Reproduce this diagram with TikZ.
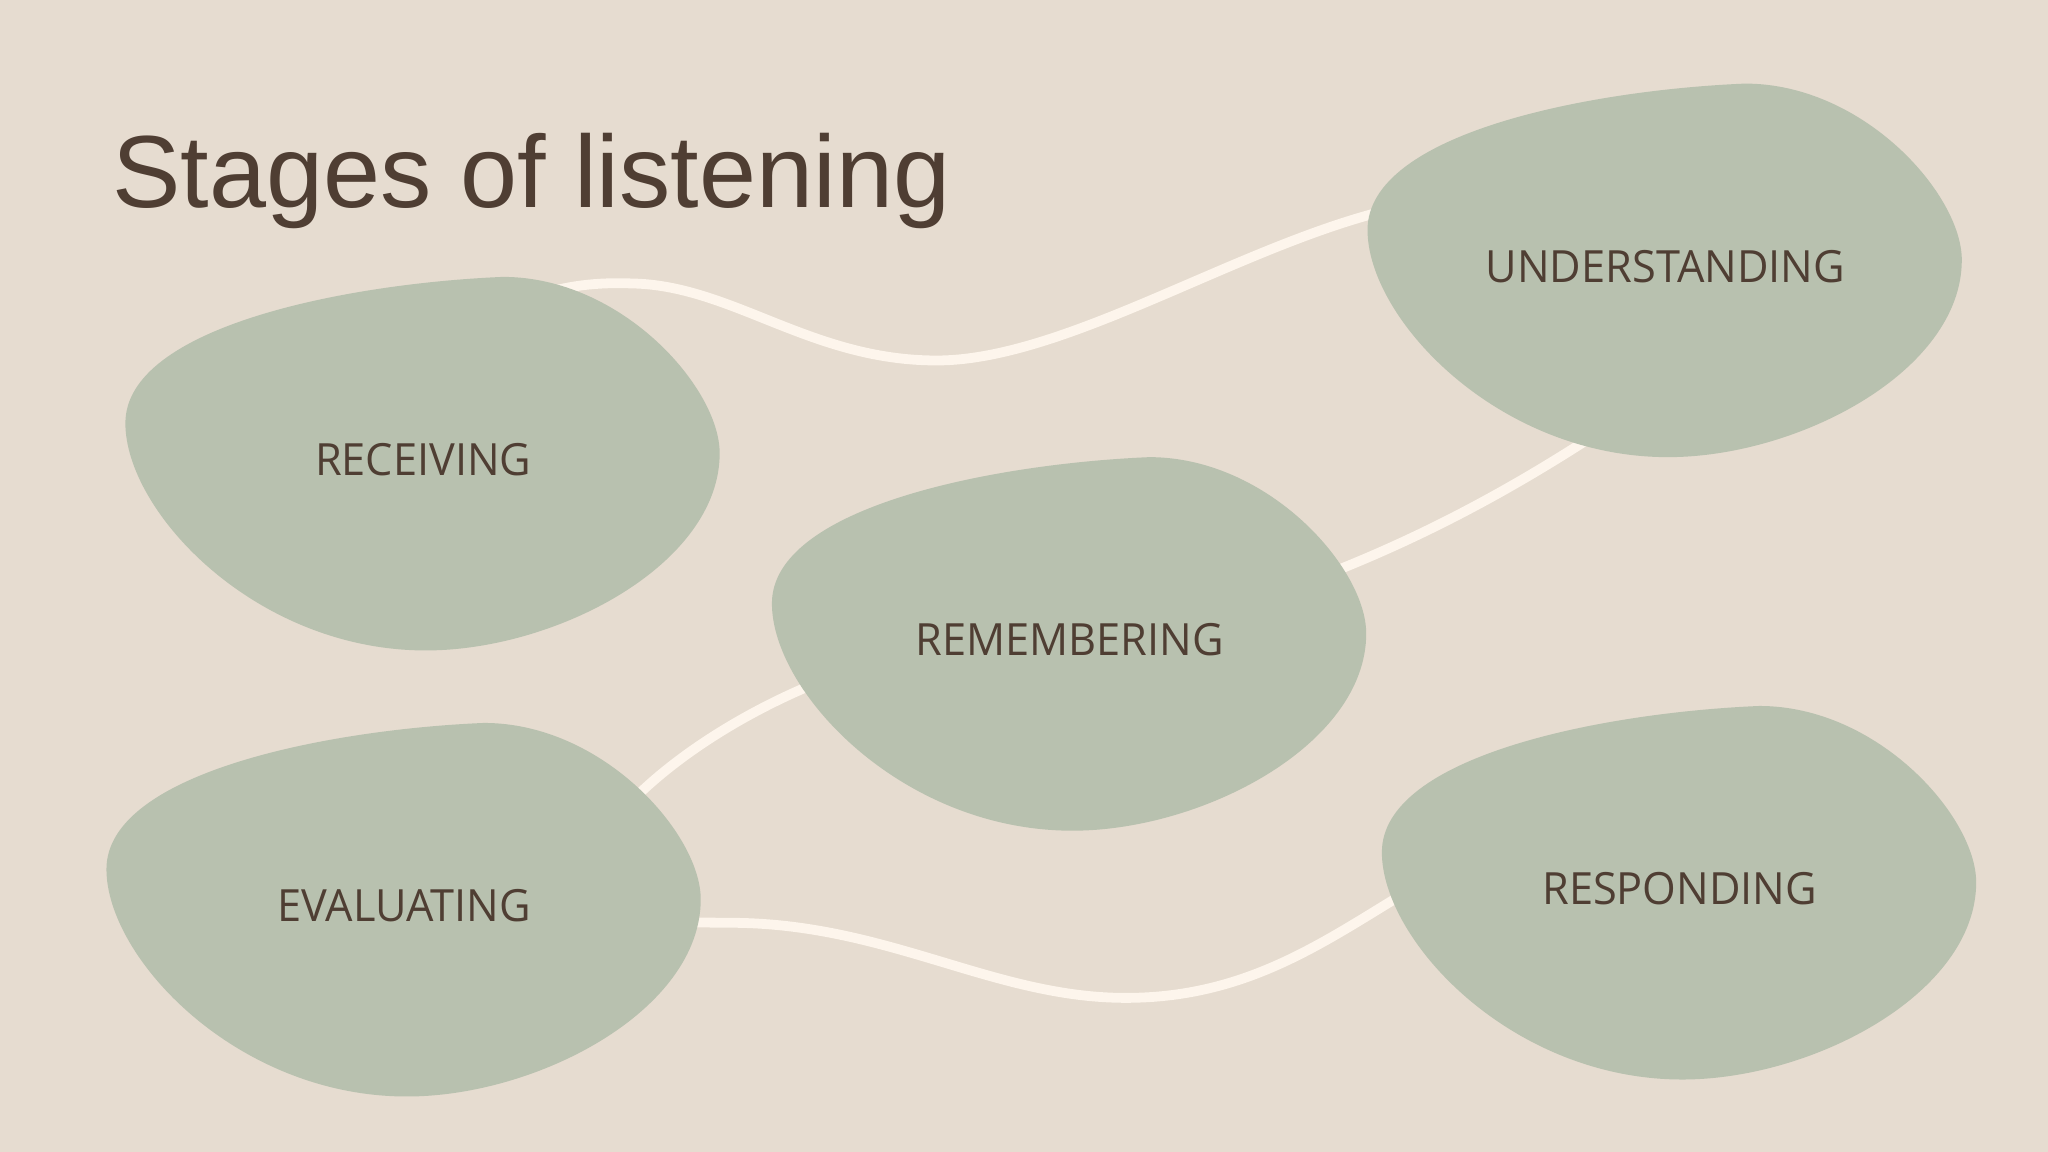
\documentclass[tikz,border=0pt]{standalone}
\usepackage{fontspec}
\newfontfamily\titlefam{Liberation Sans}
\newfontfamily\lblfam{Open Sans}[FakeStretch=0.975]
\definecolor{bgc}{RGB}{230,220,208}
\definecolor{blobc}{RGB}{184,193,175}
\definecolor{textc}{RGB}{79,62,51}
\definecolor{linec}{RGB}{253,245,236}
\tikzset{
  blobfill/.style={fill=blobc},
  conn/.style={draw=linec, line width=7.5pt, line cap=round},
  lbl/.style={inner sep=0pt, text=textc, font=\lblfam\fontsize{34}{40}\selectfont},
  ttl/.style={inner sep=0pt, text=textc, anchor=base west, font=\titlefam\fontsize{78.5}{90}\selectfont}
}
\newcommand\blobat[1]{%
  \path[blobfill, shift={#1}] (289,0)
    .. controls (170,5) and (0,38) .. (0,112)
    .. controls (0,180) and (100,286) .. (230,286)
    .. controls (330,286) and (455,220) .. (455,135)
    .. controls (455,85) and (380,0) .. (289,0) -- cycle;}
\begin{document}
\begin{tikzpicture}[x=1pt,y=-1pt]
\fill[bgc] (0,0) rectangle (1568,882);
\useasboundingbox (0,0) rectangle (1568,882);
% connector end points
\coordinate (c1a) at (405,228);
\coordinate (c1b) at (1080,157);
\coordinate (c2a) at (1230,327);
\coordinate (c2b) at (1010,442);
\coordinate (c3a) at (635,519);
\coordinate (c3b) at (480,617);
\coordinate (c4a) at (500,706);
\coordinate (c4b) at (1090,675);
% connectors
\draw[conn] (c1a) .. controls (432,219) and (455,216) .. (483,217)
  .. controls (560,218) and (620,276) .. (717,276)
  .. controls (820,276) and (960,180) .. (c1b);
\draw[conn] (c2a) .. controls (1150,380) and (1080,415) .. (c2b);
\draw[conn] (c3a) .. controls (580,540) and (520,575) .. (c3b);
\draw[conn] (c4a) -- (560,706.5)
  .. controls (680,707) and (760,764) .. (862,764)
  .. controls (960,764) and (1020,716) .. (c4b);
% blobs
\blobat{(96,212)}
\blobat{(1047,64)}
\blobat{(591,350)}
\blobat{(81.5,553.5)}
\blobat{(1058,540.5)}
% labels
\node[lbl] (rec) at (324,352) {RECEIVING};
\node[lbl] (und) at (1275,204) {UNDERSTANDING};
\node[lbl] (rem) at (819,490) {REMEMBERING};
\node[lbl] (eva) at (309.5,693.5) {EVALUATING};
\node[lbl] (res) at (1286,680.5) {RESPONDING};
% title
\node[ttl] (title) at (86,158.5) {Stages of listening};
\end{tikzpicture}
\end{document}
